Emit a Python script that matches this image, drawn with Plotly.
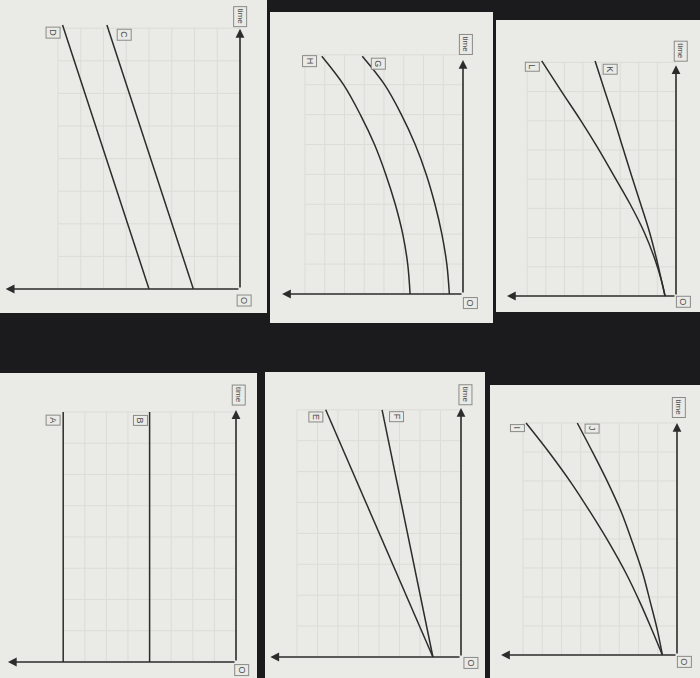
import plotly.graph_objects as go

W, H = 700, 678

# ---------------- data (position units vs time units, origin O = (0, 0)) ----------------
# panel with A / B (constant position)
A_t = [0, 8.0]
A_x = [8.0, 8.0]
B_t = [0, 8.0]
B_x = [4.0, 4.0]

# panel with C / D (straight, parallel)
C_t = [0, 8.1]
C_x = [2.05, 5.85]
D_t = [0, 8.1]
D_x = [4.0, 7.8]

# panel with E / F (straight, common start)
E_t = [0, 8.0]
E_x = [1.37, 6.6]
F_t = [0, 8.0]
F_x = [1.37, 3.85]

# panel with G / H (curved, parallel)
GH_t = [0, 1, 2, 3, 4, 5, 6, 7, 7.95]
G_x = [0.69, 0.82, 1.07, 1.42, 1.86, 2.42, 3.12, 3.97, 5.1]
H_x = [2.68, 2.8, 3.05, 3.43, 3.91, 4.48, 5.2, 6.05, 7.15]

# panel with I / J (curved, common start)
IJ_t = [0, 0.86, 1.78, 2.82, 3.85, 4.89, 5.92, 6.95, 8.0]
I_x = [0.76, 1.3, 1.9, 2.65, 3.51, 4.47, 5.48, 6.6, 7.84]
J_x = [0.76, 1.02, 1.37, 1.78, 2.3, 2.87, 3.57, 4.35, 5.18]

# panel with K / L (curved, common start)
KL_t = [0, 0.5, 1.25, 2.2, 3.15, 4.1, 5.1, 6.05, 7.0, 8.05]
K_x = [0.59, 0.77, 1.04, 1.43, 1.9, 2.38, 2.87, 3.33, 3.82, 4.35]
L_x = [0.59, 0.77, 1.13, 1.72, 2.47, 3.32, 4.23, 5.16, 6.15, 7.22]

GRID_TICKS = [1, 2, 3, 4, 5, 6, 7, 8]
GRID_MAX = 8
AXIS_LABEL = "time"
ORIGIN_LABEL = "O"

# ---------------- layout of the six photographed sheets ----------------
# rect = (left, top, right, bottom) in px, origin = O in px, ux/uy = px per unit
PANELS = [
    dict(rect=(0, 0, 267, 313), origin=(240, 289), ux=22.75, uy=32.6, xarrow=10.3, tarrow=7.98,
         curves=[("D", D_t, D_x, (8.2, 7.85)), ("C", C_t, C_x, (5.1, 7.8))],
         time_pos=(0.0, 8.37), o_pos=(-0.2, -0.34), spline=False),
    dict(rect=(270, 12, 493, 323), origin=(463, 294), ux=19.75, uy=29.9, xarrow=9.16, tarrow=7.83,
         curves=[("H", GH_t, H_x, (7.75, 7.79)), ("G", GH_t, G_x, (4.3, 7.7))],
         time_pos=(-0.15, 8.33), o_pos=(-0.35, -0.3), spline=True),
    dict(rect=(496, 20, 700, 312), origin=(676, 296), ux=18.6, uy=29.2, xarrow=9.09, tarrow=7.9,
         curves=[("L", KL_t, L_x, (7.74, 7.85)), ("K", KL_t, K_x, (3.55, 7.75))],
         time_pos=(-0.27, 8.4), o_pos=(-0.38, -0.2), spline=True),
    dict(rect=(0, 373, 257, 678), origin=(236, 662), ux=21.6, uy=31.25, xarrow=10.56, tarrow=8.06,
         curves=[("A", A_t, A_x, (8.45, 7.74)), ("B", B_t, B_x, (4.42, 7.73))],
         time_pos=(-0.12, 8.54), o_pos=(-0.28, -0.26), spline=False),
    dict(rect=(265, 372, 485, 678), origin=(461, 657), ux=20.5, uy=30.9, xarrow=9.3, tarrow=8.06,
         curves=[("E", E_t, E_x, (7.1, 7.77)), ("F", F_t, F_x, (3.15, 7.78))],
         time_pos=(-0.2, 8.5), o_pos=(-0.5, -0.2), spline=False),
    dict(rect=(490, 385, 700, 678), origin=(677, 655), ux=19.25, uy=29.0, xarrow=9.14, tarrow=8.0,
         curves=[("I", IJ_t, I_x, (8.29, 7.81)), ("J", IJ_t, J_x, (4.39, 7.79))],
         time_pos=(-0.1, 8.52), o_pos=(-0.39, -0.22), spline=True),
]

BG = "#1b1b1d"
SHEET = "#eaeae6"
GRID = "#dddcd7"
INK = "#2c2c2c"
BOX = "#8a8a88"
TXT = "#4a4a4a"

fig = go.Figure()
annotations = []
layout_axes = {}

for i, p in enumerate(PANELS, start=1):
    L, T, R, B = p["rect"]
    ox, oy = p["origin"]
    ux, uy = p["ux"], p["uy"]
    xa = "x" if i == 1 else f"x{i}"
    ya = "y" if i == 1 else f"y{i}"
    xkey = "xaxis" if i == 1 else f"xaxis{i}"
    ykey = "yaxis" if i == 1 else f"yaxis{i}"
    layout_axes[xkey] = dict(
        domain=[L / W, R / W], anchor=ya,
        range=[(ox - L) / ux, (ox - R) / ux],
        visible=False, showgrid=False, zeroline=False, fixedrange=True,
    )
    layout_axes[ykey] = dict(
        domain=[1 - B / H, 1 - T / H], anchor=xa,
        range=[(oy - B) / uy, (oy - T) / uy],
        visible=False, showgrid=False, zeroline=False, fixedrange=True,
    )

    # grid
    gx, gy = [], []
    for k in GRID_TICKS:
        gx += [k, k, None]
        gy += [0, GRID_MAX, None]
        gx += [0, GRID_MAX, None]
        gy += [k, k, None]
    fig.add_trace(go.Scatter(x=gx, y=gy, mode="lines", xaxis=xa, yaxis=ya,
                             line=dict(color=GRID, width=1), hoverinfo="skip"))

    # curves
    for name, tt, xx, lab in p["curves"]:
        fig.add_trace(go.Scatter(
            x=xx, y=tt, mode="lines", xaxis=xa, yaxis=ya, name=name,
            line=dict(color=INK, width=1.5, shape="spline" if p["spline"] else "linear",
                      smoothing=1.0),
        ))
        annotations.append(dict(
            x=lab[0], y=lab[1], xref=xa, yref=ya, text=name, showarrow=False,
            textangle=90, font=dict(family="Liberation Sans", size=9, color=TXT),
            bordercolor=BOX, borderwidth=1, borderpad=1.5, bgcolor=SHEET,
        ))

    # axes with arrowheads
    annotations.append(dict(x=p["xarrow"], y=0, ax=0, ay=0, xref=xa, yref=ya,
                            axref=xa, ayref=ya, text="", showarrow=True,
                            arrowhead=2, arrowsize=1.1, arrowwidth=1.6, arrowcolor=INK))
    annotations.append(dict(x=0, y=p["tarrow"], ax=0, ay=0, xref=xa, yref=ya,
                            axref=xa, ayref=ya, text="", showarrow=True,
                            arrowhead=2, arrowsize=1.1, arrowwidth=1.6, arrowcolor=INK))

    # axis labels
    annotations.append(dict(
        x=p["time_pos"][0], y=p["time_pos"][1], xref=xa, yref=ya, text=AXIS_LABEL,
        showarrow=False, textangle=90,
        font=dict(family="Liberation Sans", size=8, color=TXT),
        bordercolor=BOX, borderwidth=1, borderpad=1.5, bgcolor=SHEET,
    ))
    annotations.append(dict(
        x=p["o_pos"][0], y=p["o_pos"][1], xref=xa, yref=ya, text=ORIGIN_LABEL,
        showarrow=False, textangle=90,
        font=dict(family="Liberation Sans", size=9, color=TXT),
        bordercolor=BOX, borderwidth=1, borderpad=1.5, bgcolor=SHEET,
    ))

fig.update_layout(
    width=W, height=H,
    margin=dict(l=0, r=0, t=0, b=0),
    paper_bgcolor=BG, plot_bgcolor=SHEET,
    showlegend=False,
    annotations=annotations,
    **layout_axes,
)

fig.write_html(
    "out.html",
    config={"displayModeBar": False},
    post_script="document.body.style.margin='0';document.body.style.background='" + BG + "';",
)
